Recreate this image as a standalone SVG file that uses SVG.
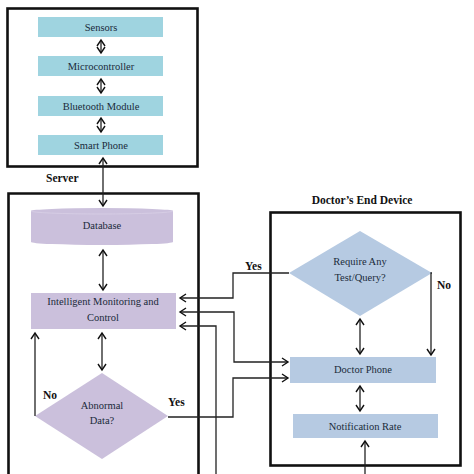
<svg xmlns="http://www.w3.org/2000/svg" width="474" height="474" viewBox="0 0 474 474">
<defs>
<style>
.frame{fill:none;stroke:#111;stroke-width:2.6}
.cyan{fill:#9fd4e0}
.lav{fill:#cbc0dc}
.blue{fill:#b6cae2}
.t{font-family:"Liberation Serif","Times New Roman",serif;font-size:10.5px;fill:#1a2a3a;text-anchor:middle}
.b{font-family:"Liberation Serif","Times New Roman",serif;font-size:11.5px;font-weight:bold;fill:#111}
.c{fill:none;stroke:#222;stroke-width:1.3}
</style>
<marker id="ah" viewBox="-7 -5 9 10" refX="0" refY="0" markerWidth="9" markerHeight="10" markerUnits="userSpaceOnUse" orient="auto-start-reverse">
<path d="M-6,-4 L0,0 L-6,4" fill="none" stroke="#111" stroke-width="1.4"/>
</marker>
</defs>
<rect width="474" height="474" fill="#fff"/>

<g id="frames">
<rect class="frame" x="7.5" y="8.5" width="190" height="158"/>
<path class="frame" d="M8.5,480 V193.5 H198.5 V480"/>
<rect class="frame" x="270.5" y="212.5" width="190" height="253"/>
<text class="b" x="46" y="182">Server</text>
<text class="b" x="362" y="204" text-anchor="middle">Doctor’s End Device</text>
</g>

<g id="sensors"><rect class="cyan" x="38" y="17" width="125" height="20"/><text class="t" x="101" y="30.5">Sensors</text></g>
<g id="microcontroller"><rect class="cyan" x="38" y="56" width="125" height="20"/><text class="t" x="101" y="69.5">Microcontroller</text></g>
<g id="bluetooth"><rect class="cyan" x="38" y="96" width="125" height="20"/><text class="t" x="101" y="109.5">Bluetooth Module</text></g>
<g id="smartphone"><rect class="cyan" x="38" y="135" width="125" height="20"/><text class="t" x="101" y="148.5">Smart Phone</text></g>

<g id="database"><path class="lav" d="M31,211 A71,3 0 0 1 173,211 V242 A71,3 0 0 1 31,242 Z"/><path d="M31,211 A71,3 0 0 0 173,211" fill="none" stroke="#d8cfe6" stroke-width="0.8"/><text class="t" x="102" y="229">Database</text></g>
<g id="imc"><rect class="lav" x="31" y="293" width="145" height="36"/><text class="t" x="103" y="305">Intelligent Monitoring and</text><text class="t" x="103" y="321">Control</text></g>
<g id="abnormal"><polygon class="lav" points="102,373 168,416 102,459 35,416"/><text class="t" x="102" y="409">Abnormal</text><text class="t" x="102" y="424">Data?</text></g>

<g id="require"><polygon class="blue" points="360,231 432,273 360,316 289,273"/><text class="t" x="360" y="265">Require Any</text><text class="t" x="360" y="281">Test/Query?</text></g>
<g id="doctorphone"><rect class="blue" x="290" y="357" width="146" height="26"/><text class="t" x="363" y="373">Doctor Phone</text></g>
<g id="notification"><rect class="blue" x="293" y="414" width="145" height="24"/><text class="t" x="365" y="429.5">Notification Rate</text></g>

<g id="labels">
<text class="b" x="43" y="399">No</text>
<text class="b" x="168" y="406">Yes</text>
<text class="b" x="245" y="270">Yes</text>
<text class="b" x="437" y="289">No</text>
</g>

<g id="connectors">
<line class="c" x1="101" y1="40" x2="101" y2="53" marker-start="url(#ah)" marker-end="url(#ah)"/>
<line class="c" x1="101" y1="79" x2="101" y2="93" marker-start="url(#ah)" marker-end="url(#ah)"/>
<line class="c" x1="101" y1="118" x2="101" y2="132" marker-start="url(#ah)" marker-end="url(#ah)"/>
<line class="c" x1="103" y1="158" x2="103" y2="206" marker-start="url(#ah)" marker-end="url(#ah)"/>
<line class="c" x1="103" y1="250" x2="103" y2="290" marker-start="url(#ah)" marker-end="url(#ah)"/>
<line class="c" x1="102" y1="333" x2="102" y2="370" marker-start="url(#ah)" marker-end="url(#ah)"/>
<polyline class="c" points="35,416 35,333" marker-end="url(#ah)"/>
<polyline class="c" points="168,417 233,417 233,378 288,378" marker-end="url(#ah)"/>
<polyline class="c" points="289,273 233,273 233,298 180,298" marker-end="url(#ah)"/>
<polyline class="c" points="180,312 234,312 234,362 288,362" marker-end="url(#ah)" marker-start="url(#ah)"/>
<polyline class="c" points="216,480 216,326 180,326" marker-end="url(#ah)"/>
<polyline class="c" points="432,273 431,273 431,355" marker-end="url(#ah)"/>
<line class="c" x1="360" y1="319" x2="360" y2="354" marker-start="url(#ah)" marker-end="url(#ah)"/>
<line class="c" x1="360" y1="386" x2="360" y2="411" marker-start="url(#ah)" marker-end="url(#ah)"/>
<line class="c" x1="365" y1="480" x2="365" y2="441" marker-end="url(#ah)"/>
</g>
</svg>
